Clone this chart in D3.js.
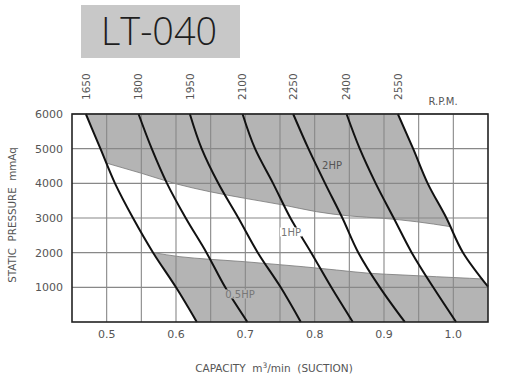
<!DOCTYPE html>
<html><head><meta charset="utf-8">
<script src="https://cdn.jsdelivr.net/npm/d3@7"></script>
<style>
html,body{margin:0;padding:0;background:#fff;}
text{font-family:"DejaVu Sans",sans-serif;}
</style></head>
<body>
<svg id="chart" width="510" height="384"></svg>
<script>
// ---- data ----
const title = "LT-040";
const rpmLabels = ["1650","1800","1950","2100","2250","2400","2550"];
const pressureLevels = [6000,5000,4000,3000,2000,1000,0];
const cap1650 = [0.470,0.491,0.512,0.538,0.567,0.600,0.630];
const cap1800 = [0.546,0.565,0.587,0.614,0.644,0.671,0.703];
const cap1950 = [0.620,0.637,0.661,0.690,0.718,0.751,0.780];
const cap2100 = [0.696,0.714,0.740,0.765,0.795,0.824,0.855];
const cap2250 = [0.769,0.791,0.815,0.840,0.863,0.894,0.930];
const cap2400 = [0.846,0.865,0.888,0.914,0.940,0.971,1.004];
const cap2550 = [0.920,0.942,0.963,0.990,1.014,1.050];
const press2550 = [6000,5000,4000,3000,2000,1020];
// 2HP limit (lower edge of upper shaded band)
const hp2Cap = [0.5005,0.5504,0.6009,0.6488,0.6993,0.7545,0.8026,0.8506,0.8986,0.9467,0.996];
const hp2Press = [4578,4289,3981,3759,3568,3375,3182,3058,2991,2893,2749];
// 0.5HP limit (upper edge of lower shaded band)
const hp05Cap = [0.568,0.6056,0.6488,0.6993,0.7497,0.7833,0.8314,0.8794,0.9274,0.9755,1.0235,1.0427];
const hp05Press = [2000,1884,1809,1739,1653,1595,1500,1405,1356,1307,1261,1240];
const xTicks = [0.5,0.6,0.7,0.8,0.9,1.0];
const xGrid = [0.5,0.55,0.6,0.65,0.7,0.75,0.8,0.85,0.9,0.95,1.0];
const yTicks = [1000,2000,3000,4000,5000,6000];

// ---- layout ----
const svg = d3.select("#chart");
const L = 72, R = 488, T = 114, B = 322;
const x = d3.scaleLinear().domain([0.45,1.05]).range([L,R]);
const y = d3.scaleLinear().domain([0,6000]).range([B,T]);
const fillGray = "#b4b4b4";

// title box
svg.append("rect").attr("x",81).attr("y",5).attr("width",159).attr("height",53).attr("fill","#c8c8c8");
svg.append("text").attr("x",159).attr("y",45).attr("text-anchor","middle")
  .attr("font-size",39).attr("fill","#1e1e1e").attr("font-weight",300)
  .attr("textLength",116).attr("lengthAdjust","spacingAndGlyphs")
  .style("font-family","'Open Sans','Lato','DejaVu Sans',sans-serif")
  .text(title);

const zip = (cs,ps) => cs.map((c,i)=>[c,ps[i]]);
const lineY = d3.line().x(d=>x(d[0])).y(d=>y(d[1])).curve(d3.curveMonotoneY);
const lineX = d3.line().x(d=>x(d[0])).y(d=>y(d[1])).curve(d3.curveMonotoneX);
const straight = d3.line().x(d=>x(d[0])).y(d=>y(d[1]));
const join = parts => parts.map((p,i)=> i===0 ? p : p.replace(/^M/,"L")).join("") + "Z";

// upper shaded band (2HP)
const upper = join([
  straight([[cap1650[0],6000],[cap2550[0],6000]]),
  lineY(zip(cap2550.slice(0,4),press2550.slice(0,4)).concat([[hp2Cap[hp2Cap.length-1],hp2Press[hp2Press.length-1]]])),
  lineX(zip(hp2Cap,hp2Press).reverse()),
  lineY([[hp2Cap[0],hp2Press[0]],[cap1650[1],5000],[cap1650[0],6000]])
]);
svg.append("path").attr("d",upper).attr("fill",fillGray);

// lower shaded band (0.5HP)
const lower = join([
  lineY([[hp05Cap[0],2000],[cap1650[5],1000],[cap1650[6],0]]),
  straight([[cap1650[6],0],[1.05,0],[1.05,press2550[5]],[hp05Cap[hp05Cap.length-1],hp05Press[hp05Press.length-1]]]),
  lineX(zip(hp05Cap,hp05Press).reverse())
]);
svg.append("path").attr("d",lower).attr("fill",fillGray);

// boundary lines of bands (thin)
svg.append("path").attr("d",lineX(zip(hp2Cap,hp2Press))).attr("fill","none").attr("stroke","#777").attr("stroke-width",0.8);
svg.append("path").attr("d",lineX(zip(hp05Cap,hp05Press))).attr("fill","none").attr("stroke","#777").attr("stroke-width",0.8);

// grid
const grid = svg.append("g").attr("stroke","#888").attr("stroke-width",1.1);
xGrid.forEach(v=>grid.append("line").attr("x1",x(v)).attr("x2",x(v)).attr("y1",T).attr("y2",B));
yTicks.forEach(v=>grid.append("line").attr("x1",L).attr("x2",R).attr("y1",y(v)).attr("y2",y(v)));

// RPM curves
const series = [cap1650,cap1800,cap1950,cap2100,cap2250,cap2400];
series.forEach(cs=>{
  svg.append("path").attr("d",lineY(zip(cs,pressureLevels))).attr("fill","none")
    .attr("stroke","#111").attr("stroke-width",2);
});
svg.append("path").attr("d",lineY(zip(cap2550,press2550))).attr("fill","none")
  .attr("stroke","#111").attr("stroke-width",2);

// plot border
svg.append("rect").attr("x",L).attr("y",T).attr("width",R-L).attr("height",B-T)
  .attr("fill","none").attr("stroke","#222").attr("stroke-width",1.6);

// HP labels
function hpLabel(txt, cx, cy, bg, col){
  const t = svg.append("text").attr("x",cx).attr("y",cy).attr("text-anchor","middle")
    .attr("dy","0.35em").attr("font-size",10).attr("fill",col).text(txt);
  if(bg){
    const bb = t.node().getBBox();
    svg.insert("rect", () => t.node()).attr("x",bb.x-1).attr("y",bb.y+1).attr("width",bb.width+2).attr("height",bb.height-2).attr("fill",bg);
  }
}
hpLabel("2HP", 332, 165, null, "#555");
hpLabel("1HP", 291, 232, "#fff", "#777");
hpLabel("0.5HP", 240, 294, fillGray, "#777");

// y tick labels
yTicks.forEach(v=>svg.append("text").attr("x",63).attr("y",y(v)).attr("dy","0.36em")
  .attr("text-anchor","end").attr("font-size",11).attr("fill","#555").text(v));
// x tick labels
xTicks.forEach(v=>svg.append("text").attr("x",x(v)).attr("y",338)
  .attr("text-anchor","middle").attr("font-size",11).attr("fill","#555").text(v.toFixed(1)));
// top rpm labels
const tops = [cap1650,cap1800,cap1950,cap2100,cap2250,cap2400,cap2550].map(a=>a[0]);
rpmLabels.forEach((lab,i)=>{
  svg.append("text").attr("transform",`translate(${x(tops[i])},100) rotate(-90)`)
    .attr("dy","0.36em").attr("font-size",10.5).attr("fill","#555").text(lab);
});
svg.append("text").attr("x",443).attr("y",105).attr("text-anchor","middle")
  .attr("font-size",10).attr("fill","#555").text("R.P.M.");

// axis titles
svg.append("text").attr("transform","translate(16,215) rotate(-90)").attr("text-anchor","middle")
  .attr("font-size",10.3).attr("fill","#555").style("white-space","pre").text("STATIC  PRESSURE  mmAq");
const xt = svg.append("text").attr("x",274).attr("y",372).attr("text-anchor","middle")
  .attr("font-size",10.5).attr("fill","#555").style("white-space","pre");
xt.append("tspan").text("CAPACITY  m");
xt.append("tspan").attr("dy",-4).attr("font-size",7.5).text("3");
xt.append("tspan").attr("dy",4).text("/min  (SUCTION)");
</script>
</body></html>
